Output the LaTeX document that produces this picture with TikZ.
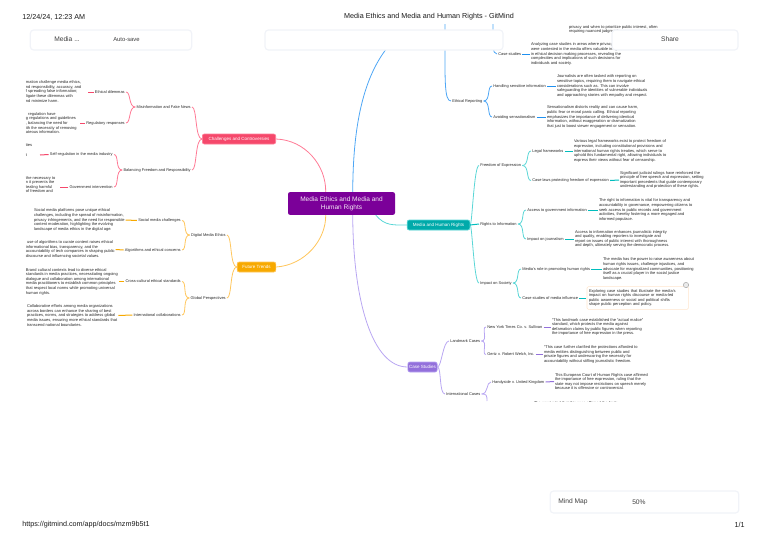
\documentclass[tikz,border=0pt]{standalone}
\usepackage{fontspec}
\usetikzlibrary{calc}
\setmainfont{Liberation Sans}
\definecolor{rl}{HTML}{FF7A95}\definecolor{rd}{HTML}{F5486B}
\definecolor{ol}{HTML}{FFC65C}\definecolor{od}{HTML}{F7A900}
\definecolor{tl}{HTML}{5AD6D6}\definecolor{td}{HTML}{00BDBD}
\definecolor{bl}{HTML}{4DA6F5}\definecolor{bd}{HTML}{1E90F0}
\definecolor{pl}{HTML}{B8A6F2}\definecolor{pd}{HTML}{9370DB}
\definecolor{shade}{HTML}{F1F3F8}
\tikzset{
 leaf/.style={anchor=west,align=left,inner sep=0pt,outer sep=0.75pt,font=\fontsize{3}{3.45}\selectfont,text=black!85},
 lab/.style={anchor=west,inner sep=0pt,outer sep=1pt,font=\fontsize{2.95}{3.45}\selectfont,text=black!85},
 labw/.style={lab,anchor=east},
 topic/.style={rounded corners=1.5pt,inner sep=0pt,minimum height=7.5pt,font=\fontsize{3.4}{4}\selectfont,text=white,line width=0.5pt},
 thinr/.style={rl,line width=0.6pt},thino/.style={ol,line width=0.6pt},thint/.style={tl,line width=0.6pt},thinb/.style={bl,line width=0.6pt},thinp/.style={pl,line width=0.6pt},
 dashr/.style={rd,line width=0.75pt},dasho/.style={od,line width=0.75pt},dasht/.style={td,line width=0.75pt},dashb/.style={bd,line width=0.75pt},dashp/.style={pd,line width=0.75pt},
 bar/.style={draw=shade,fill=white,line width=0.9pt,rounded corners=2.5pt},
 page/.style={inner sep=0pt,font=\fontsize{5.4}{6}\selectfont,text=black!90},
 ui/.style={inner sep=0pt,font=\fontsize{5}{6}\selectfont,text=black!75},
}
\newcommand{\linkE}[3]{\draw[#1] (#2.east) .. controls +(7,0) and +(-5,0) .. (#3.west);}
\newcommand{\linkW}[3]{\draw[#1] (#2.west) .. controls +(-7,0) and +(5,0) .. (#3.east);}
\newcommand{\barE}[3]{\draw[#1] (#2.east) -- (#3.west);}
\newcommand{\barW}[3]{\draw[#1] (#2.west) -- (#3.east);}
\begin{document}
\begin{tikzpicture}[x=0.75pt,y=-0.75pt]
\useasboundingbox (0,0) rectangle (768,543);
% main topics
\node (root) [rounded corners=1.5pt,fill={rgb,255:red,123;green,0;blue,153},minimum width=80.25pt,minimum height=17pt,inner sep=0pt,align=center,text=white!92!violet,font=\fontsize{4.9}{6.2}\selectfont] at (341.5,203.5) {Media Ethics and Media and\\Human Rights};
\node (red) [topic,fill=rd,draw=rl,minimum width=55pt] at (239,139) {Challenges and Controversies};
\node (orange) [topic,fill=od,draw=ol,minimum width=29pt] at (256.5,267) {Future Trends};
\node (teal) [topic,fill=td!90!black,draw=tl,minimum width=47pt] at (438.5,225) {Media and Human Rights};
\node (violet) [topic,fill=pd,draw=pl,minimum width=22pt] at (422.5,367) {Case Studies};
% hidden hub under the toolbar
\coordinate (bluehub) at (392,42);
\coordinate (ethstem) at (445,24);
\coordinate (casestem) at (493,24);
% root links
\draw[thinr] (red.east) .. controls (305,140) and (326,165) .. ($(root.north west)+(38,0)$);
\draw[thino] (orange.east) .. controls (305,265) and (326,240) .. ($(root.south west)+(38,0)$);
\draw[thinb] ($(root.north west)+(65,0)$) .. controls (353,120) and (365,72) .. (bluehub);
\draw[thint] ($(root.south west)+(88,0)$) .. controls (385,226) and (393,225) .. (teal.west);
\draw[thinp] ($(root.south west)+(65,0)$) .. controls (353,300) and (372,367) .. (violet.west);
% blue branch
\node (eth) [lab] at (451,101) {Ethical Reporting};
\node (cs) [lab] at (497,54) {Case studies};
\node (hsi) [lab] at (492,86) {Handling sensitive information};
\node (as) [lab] at (492,117) {Avoiding sensationalism};
\draw[thinb] (ethstem) .. controls (445,80) and (444,101) .. (eth.west);
\draw[thinb] (casestem) .. controls (493,44) and (492,54) .. (cs.west);
\linkE{thinb}{eth}{hsi}
\linkE{thinb}{eth}{as}
\node (lp) [leaf] at (568,29.5) {privacy and when to prioritize public interest, often\\requiring nuanced judgment.};
\node (lcs) [leaf] at (530,54) {Analyzing case studies in areas where privacy rights\\were contested in the media offers valuable insights\\in ethical decision making processes, revealing the\\complexities and implications of such decisions for\\individuals and society.};
\node (lhsi) [leaf] at (556,86) {Journalists are often tasked with reporting on\\sensitive topics, requiring them to navigate ethical\\considerations such as. This can involve\\safeguarding the identities of vulnerable individuals\\and approaching stories with empathy and respect.};
\node (las) [leaf] at (546,117) {Sensationalism distorts reality and can cause harm,\\public fear or moral panic calling. Ethical reporting\\emphasizes the importance of delivering identical\\information, without exaggeration or dramatization\\that just to boost viewer engagement or sensation.};
\barE{dashb}{cs}{lcs}\barE{dashb}{hsi}{lhsi}\barE{dashb}{as}{las}
% teal branch
\node (fe) [lab] at (479,165.5) {Freedom of Expression};
\node (ri) [lab] at (479,224) {Rights to Information};
\node (is) [lab] at (479,283) {Impact on Society};
\draw[thint] (teal.east) .. controls +(2,0) and +(-5,0) .. (fe.west);
\draw[thint] (teal.east) .. controls +(2,0) and +(-5,0) .. (is.west);
\barE{dasht}{teal}{ri}
\node (lf) [lab] at (531,151) {Legal frameworks};
\node (cl) [lab] at (531,180.5) {Case laws protecting freedom of expression};
\node (ag) [lab] at (526,210) {Access to government information};
\node (ij) [lab] at (526,239) {Impact on journalism};
\node (mr) [lab] at (521,269) {Media's role in promoting human rights};
\node (csm) [lab] at (521,298) {Case studies of media influence};
\linkE{thint}{fe}{lf}\linkE{thint}{fe}{cl}
\linkE{thint}{ri}{ag}\linkE{thint}{ri}{ij}
\linkE{thint}{is}{mr}\linkE{thint}{is}{csm}
\node (llf) [leaf] at (573,151) {Various legal frameworks exist to protect freedom of\\expression, including constitutional provisions and\\international human rights treaties, which serve to\\uphold this fundamental right, allowing individuals to\\express their views without fear of censorship.};
\node (lcl) [leaf] at (619,180) {Significant judicial rulings have reinforced the\\principle of free speech and expression, setting\\important precedents that guide contemporary\\understanding and protection of these rights.};
\node (lag) [leaf] at (598,210) {The right to information is vital for transparency and\\accountability in governance, empowering citizens to\\seek access to public records and government\\activities, thereby fostering a more engaged and\\informed populace.};
\node (lij) [leaf] at (574,239) {Access to information enhances journalistic integrity\\and quality, enabling reporters to investigate and\\report on issues of public interest with thoroughness\\and depth, ultimately serving the democratic process.};
\node (lmr) [leaf] at (602,269) {The media has the power to raise awareness about\\human rights issues, challenge injustices, and\\advocate for marginalized communities, positioning\\itself as a crucial player in the social justice\\landscape.};
\node (lcsm) [leaf,draw=orange!20,line width=0.4pt,rounded corners=1pt,text width=73pt,inner xsep=1.5pt,inner ysep=2pt,minimum height=16.5pt] at (586,298) {Exploring case studies that illustrate the media's\\impact on human rights discourse or media-led\\public awareness or social and political shifts\\shape public perception and policy.};
\node (sel) [circle,draw=black!35,fill=black!8,line width=0.4pt,minimum size=4pt,inner sep=0pt] at (686,285) {};
\barE{dasht}{lf}{llf}\barE{dasht}{cl}{lcl}\barE{dasht}{ag}{lag}\barE{dasht}{ij}{lij}\barE{dasht}{mr}{lmr}\barE{dasht}{csm}{lcsm}
% violet branch
\node (lm) [lab] at (449,341) {Landmark Cases};
\node (ic) [lab] at (445,394) {International Cases};
\draw[thinp] (violet.east) .. controls +(4,0) and +(-6,0) .. (lm.west);
\draw[thinp] (violet.east) .. controls +(4,0) and +(-6,0) .. (ic.west);
\node (ny) [lab] at (486,327) {New York Times Co. v. Sullivan};
\node (ge) [lab] at (486,354.5) {Gertz v. Robert Welch, Inc.};
\node (hs) [lab] at (491,382) {Handyside v. United Kingdom};
\coordinate (icend) at (487,401);
\linkE{thinp}{lm}{ny}\linkE{thinp}{lm}{ge}\linkE{thinp}{ic}{hs}
\draw[thinp] (ic.east) .. controls +(5,0) and +(0,-6) .. (icend);
\node (lny) [leaf] at (551,327) {``This landmark case established the ``actual malice''\\standard, which protects the media against\\defamation claims by public figures when reporting\\the importance of free expression in the press.};
\node (lge) [leaf] at (543,354.5) {``This case further clarified the protections afforded to\\media entities distinguishing between public and\\private figures and underscoring the necessity for\\accountability without stifling journalistic freedom.};
\node (lhs) [leaf] at (554,381.5) {This European Court of Human Rights case affirmed\\the importance of free expression, ruling that the\\state may not impose restrictions on speech merely\\because it is offensive or controversial.};
\barE{dashp}{ny}{lny}\barE{dashp}{ge}{lge}\barE{dashp}{hs}{lhs}
\begin{scope}
\clip (520,396) rectangle (640,401);
\node (lcut) [leaf] at (533,403) {The court ruled that this case affirmed the limits};
\end{scope}
% red branch
\node (mf) [labw] at (192,107) {Misinformation and Fake News};
\node (bf) [labw] at (192,170) {Balancing Freedom and Responsibility};
\linkW{thinr}{red}{mf}\linkW{thinr}{red}{bf}
\node (ed) [labw] at (126,92) {Ethical dilemmas};
\node (rr) [labw] at (126,123) {Regulatory responses};
\node (sr) [labw] at (114,154.5) {Self-regulation in the media industry};
\node (gi) [labw] at (114,187) {Government intervention};
\linkW{thinr}{mf}{ed}\linkW{thinr}{mf}{rr}\linkW{thinr}{bf}{sr}\linkW{thinr}{bf}{gi}
\node (led) [leaf] at (25,91.5) {mation challenge media ethics,\\nd responsibility, accuracy, and\\f spreading false information;\\ligate these dilemmas with\\nd minimize harm.};
\node (lrr) [leaf] at (25,123) {\ \ regulation have\\g regulations and guidelines\\, balancing the need for\\ith the necessity of removing\\ateous information.};
\node (lsr) [leaf] at (25,150) {ties\\\\t};
\node (lgi) [leaf] at (25,184.5) {the necessary to\\n it prevents the\\tealing harmful\\of freedom and};
\coordinate (edend) at (88,92);
\coordinate (rrend) at (80,123);
\coordinate (srend) at (40,155);
\coordinate (giend) at (60,187);
\draw[dashr] (ed.west) -- (edend);\draw[dashr] (rr.west) -- (rrend);\draw[dashr] (sr.west) -- (srend);\draw[dashr] (gi.west) -- (giend);
% orange branch
\node (dm) [labw] at (227,235) {Digital Media Ethics};
\node (gp) [labw] at (227,298) {Global Perspectives};
\linkW{thino}{orange}{dm}\linkW{thino}{orange}{gp}
\node (sm) [labw] at (182,220.5) {Social media challenges};
\node (al) [labw] at (182,250) {Algorithms and ethical concerns};
\node (cc) [labw] at (182,281.5) {Cross-cultural ethical standards};
\node (ie) [labw] at (182,315) {International collaborations};
\linkW{thino}{dm}{sm}\linkW{thino}{dm}{al}\linkW{thino}{gp}{cc}\linkW{thino}{gp}{ie}
\node (lsm) [leaf] at (33,220) {Social media platforms pose unique ethical\\challenges, including the spread of misinformation,\\privacy infringements, and the need for responsible\\content moderation, highlighting the evolving\\landscape of media ethics in the digital age.};
\node (lal) [leaf] at (25,249.5) {\ use of algorithms to curate content raises ethical\\informational bias, transparency, and the\\accountability of tech companies in shaping public\\discourse and influencing societal values.};
\node (lcc) [leaf] at (25,281.5) {Brand cultural contexts lead to diverse ethical\\standards in media practices, necessitating ongoing\\dialogue and collaboration among international\\media practitioners to establish common principles\\that respect local norms while promoting universal\\human rights.};
\node (lie) [leaf] at (26,315.5) {Collaborative efforts among media organizations\\across borders can enhance the sharing of best\\practices, norms, and strategies to address global\\media issues, ensuring more ethical standards that\\transcend national boundaries.};
\barW{dasho}{sm}{lsm}\barW{dasho}{al}{lal}\barW{dasho}{cc}{lcc}\barW{dasho}{ie}{lie}
% page furniture
\node (tb1) [bar,minimum width=121pt,minimum height=15pt] at (111,40) {};
\node (tb2) [bar,minimum width=178.5pt,minimum height=15pt] at (384,40) {};
\node (tb3) [bar,minimum width=94.5pt,minimum height=15pt] at (675,40) {};
\node (tb4) [bar,minimum width=141.5pt,minimum height=16.5pt] at (644.5,502) {};
\node (t1) [ui,anchor=west] at (54,39.5) {Media ...};
\node (t2) [ui,anchor=west,font=\fontsize{4.4}{5}\selectfont] at (113,39.5) {Auto-save};
\node (t3) [ui] at (670,39.5) {Share};
\node (t4) [ui,anchor=west] at (558,502) {Mind Map};
\node (t5) [ui,anchor=west] at (632,502) {50\%};
\node (p1) [page,anchor=west] at (22,17) {12/24/24, 12:23 AM};
\node (p2) [page] at (429,17) {Media Ethics and Media and Human Rights - GitMind};
\node (p3) [page,anchor=west] at (22,525) {https://gitmind.com/app/docs/mzm9b5t1};
\node (p4) [page,anchor=east] at (745,525) {1/1};
\end{tikzpicture}
\end{document}
